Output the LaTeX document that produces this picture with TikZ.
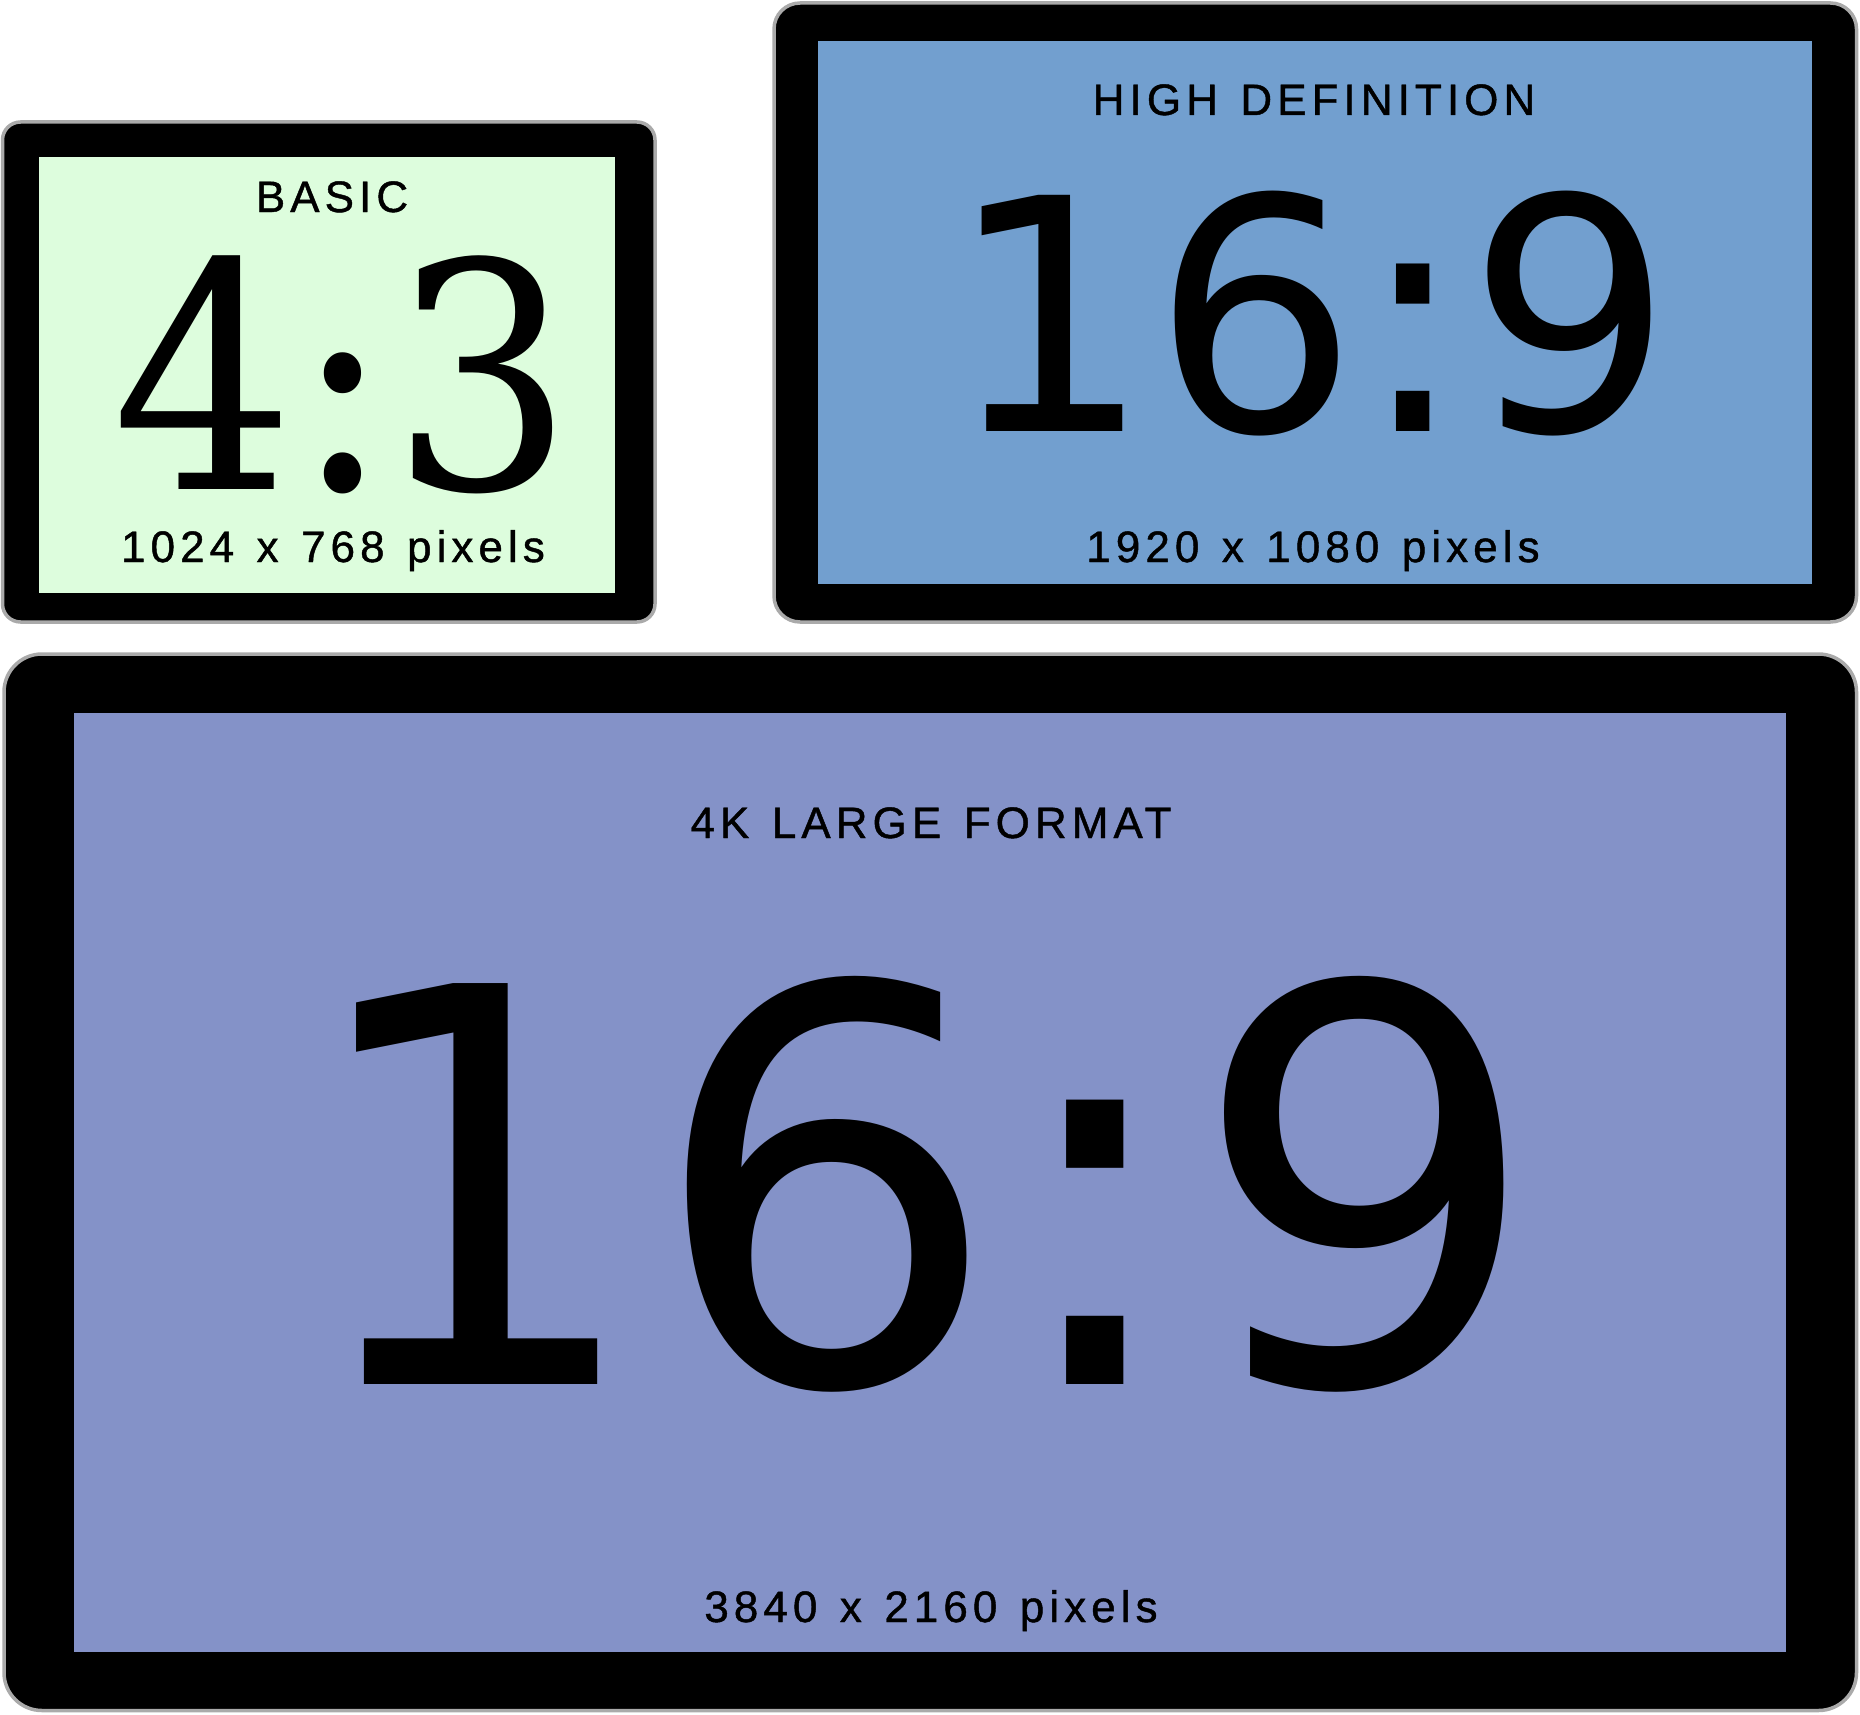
\documentclass[tikz,border=0pt]{standalone}
\usepackage{fontspec}
\usepackage{graphicx}
\setmainfont{Liberation Sans}
\newfontfamily\lblfont[LetterSpace=11.5,WordSpace=1.3,FakeBold=1]{Liberation Sans}
\newfontfamily\serifbig{DejaVu Serif}
\newfontfamily\sansbig{DejaVu Sans}
\definecolor{basicgreen}{HTML}{DDFDDD}
\definecolor{hdblue}{HTML}{729FCF}
\definecolor{fkblue}{HTML}{8492C8}
\definecolor{bezel}{HTML}{AAAAAA}
\begin{document}
\begin{tikzpicture}[x=1pt,y=-1pt,
  frame/.style={draw=bezel, line width=3.5pt, fill=black},
  lbl/.style={font=\lblfont\fontsize{44}{44}\selectfont, anchor=base, inner sep=0pt},
  bigtext/.style={anchor=base, inner sep=0pt}]
\useasboundingbox (0,0) rectangle (1860,1715);
% Basic monitor
\draw[frame, rounded corners=18pt] (2.5,122) rectangle (655,622);
\fill[basicgreen] (39,157) rectangle (615,593);
\node[lbl] (basictitle) at (332,212) {BASIC};
\node[bigtext, font=\serifbig\fontsize{315}{315}\selectfont] (basicratio) at (343,489) {\scalebox{0.91}[1]{4:3}};
\node[lbl] (basicpx) at (333,562) {1024 x 768 pixels};
% HD monitor
\draw[frame, rounded corners=26pt] (774,3) rectangle (1856.5,622);
\fill[hdblue] (818,41) rectangle (1812,584);
\node[lbl] (hdtitle) at (1314,115) {HIGH DEFINITION};
\node[bigtext, font=\sansbig\fontsize{324}{324}\selectfont] (hdratio) at (1310,431) {16:9};
\node[lbl] (hdpx) at (1313,562) {1920 x 1080 pixels};
% 4K monitor
\draw[frame, rounded corners=38pt] (4,654) rectangle (1856.5,1710.5);
\fill[fkblue] (74,713) rectangle (1786,1652);
\node[lbl] (fktitle) at (931,838) {4K LARGE FORMAT};
\node[bigtext, font=\sansbig\fontsize{550}{550}\selectfont] (fkratio) at (919,1384) {\scalebox{1.01}[1]{16:9}};
\node[lbl] (fkpx) at (931,1622) {3840 x 2160 pixels};
\end{tikzpicture}
\end{document}
